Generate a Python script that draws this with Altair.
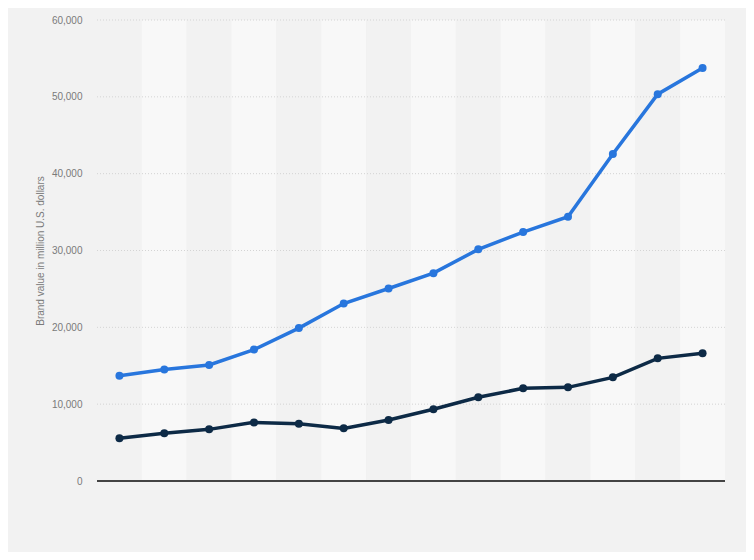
import altair as alt
import pandas as pd

years = [str(y) for y in range(2006, 2020)]
series_a = [13700, 14500, 15100, 17100, 19900, 23100, 25050, 27050, 30150, 32400, 34400, 42550, 50350, 53750]
series_b = [5550, 6200, 6720, 7630, 7460, 6850, 7940, 9330, 10890, 12060, 12190, 13490, 15960, 16620]
series_names = ["Series A", "Series B"]
colors = ["#2876dd", "#0d2a46"]
y_ticks = [0, 10000, 20000, 30000, 40000, 50000, 60000]

rows = []
for i, y in enumerate(years):
    rows.append({"year": y, "series": series_names[0], "value": series_a[i]})
    rows.append({"year": y, "series": series_names[1], "value": series_b[i]})
df = pd.DataFrame(rows)

bands = pd.DataFrame({"year": years, "shade": ["d" if i % 2 == 0 else "l" for i in range(len(years))]})
grid_df = pd.DataFrame({"value": y_ticks[1:]})

xscale = alt.Scale(type="band", domain=years, paddingInner=0, paddingOuter=0)
yscale = alt.Scale(domain=[0, 60000], nice=False)

band_layer = alt.Chart(bands).mark_rect().encode(
    x=alt.X("year:N", scale=xscale, axis=None),
    y=alt.value(0),
    y2=alt.value(461),
    color=alt.Color("shade:N", scale=alt.Scale(domain=["d", "l"], range=["#f2f2f2", "#f8f8f8"]), legend=None),
)

axis_layer = alt.Chart(df).mark_point(opacity=0).encode(
    y=alt.Y(
        "value:Q",
        scale=yscale,
        axis=alt.Axis(
            values=y_ticks,
            format=",.0f",
            grid=False,
            domain=False,
            ticks=False,
            labelPadding=15,
            labelColor="#7a7a7a",
            labelFontSize=10,
            labelFont="Liberation Sans",
            title="Brand value in million U.S. dollars",
            titleColor="#7a7a7a",
            titleFontSize=10,
            titleFont="Liberation Sans",
            titleFontWeight="normal",
            titlePadding=6,
        ),
    ),
)

grid_layer = alt.Chart(grid_df).mark_rule(color="#d4d4d4", strokeWidth=1, strokeDash=[1, 2]).encode(
    y=alt.Y("value:Q", scale=yscale),
    x=alt.value(0),
    x2=alt.value(628),
)

base_rule = alt.Chart(bands).mark_rule(color="#444444", strokeWidth=1.5).encode(
    x=alt.value(0), x2=alt.value(628), y=alt.value(461)
)

lines = alt.Chart(df).mark_line(strokeWidth=3.5).encode(
    x=alt.X("year:N", scale=xscale, axis=None),
    y=alt.Y("value:Q", scale=yscale),
    color=alt.Color("series:N", scale=alt.Scale(domain=series_names, range=colors), legend=None),
)
points = alt.Chart(df).mark_circle(size=64, opacity=1).encode(
    x=alt.X("year:N", scale=xscale, axis=None),
    y=alt.Y("value:Q", scale=yscale),
    color=alt.Color("series:N", scale=alt.Scale(domain=series_names, range=colors), legend=None),
)

chart = alt.layer(band_layer, axis_layer, grid_layer, base_rule, lines, points).resolve_scale(color="independent").properties(
    width=628,
    height=461,
    autosize=alt.AutoSizeParams(type="none"),
    padding={"left": 89, "top": 12, "right": 21, "bottom": 71},
    background="#f2f2f2",
).configure_view(stroke=None)

chart.save("out.html", embed_options={"renderer": "svg", "actions": False})
